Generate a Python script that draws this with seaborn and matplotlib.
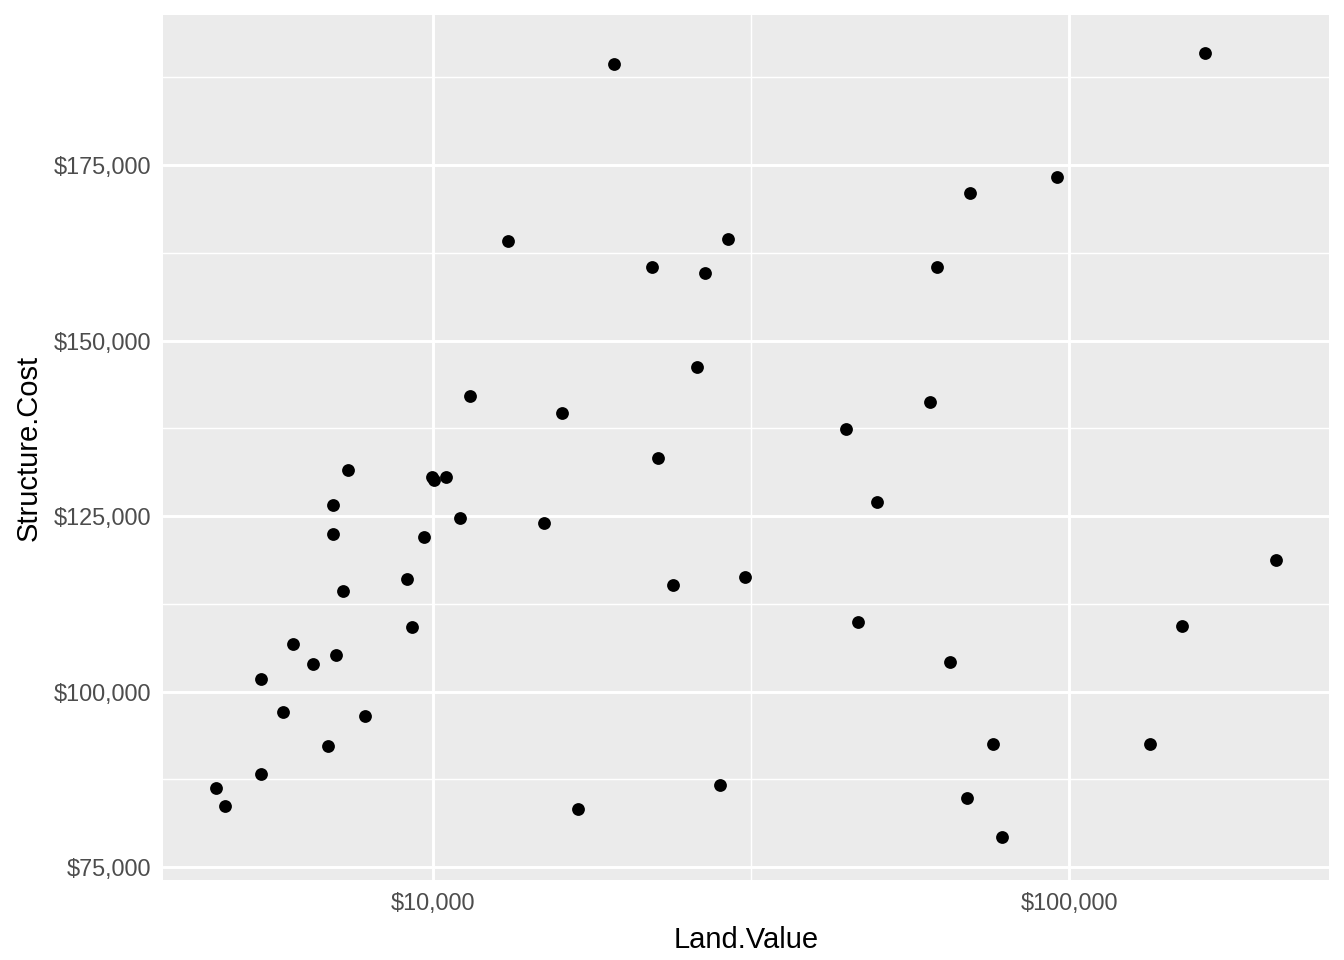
import matplotlib
matplotlib.use("Agg")
import matplotlib.pyplot as plt
import matplotlib.ticker as mticker
import numpy as np
import pandas as pd
import seaborn as sns


land_value = [
    4559, 4710, 5365, 5365, 5811, 6025, 6477, 6838, 6963, 6963,
    7040, 7222, 7354, 7818, 9102, 9268, 9679, 9964, 10036, 10482,
    11026, 11433, 13121, 14946, 15951, 16902, 19261, 22102, 22590, 23843,
    26015, 26780, 28266, 29094, 30945, 44609, 46581, 49901, 60437, 61992,
    65021, 69126, 69885, 75942, 78460, 95743, 134100, 150550, 163640, 211600,
]
structure_cost = [
    86254, 83689, 101781, 88248, 97080, 106766, 103917, 92236, 126567, 122436,
    105199, 114316, 131553, 96510, 116026, 109188, 122009, 130556, 130200, 130556,
    124715, 142094, 164174, 124003, 139672, 83262, 189387, 160470, 133262, 115171,
    146225, 159615, 86681, 164459, 116311, 137393, 109900, 126994, 141239, 160470,
    104202, 84829, 171011, 92521, 79274, 173291, 92521, 109330, 190954, 118732,
]

x_major = [10000, 100000]
x_minor = [10 ** 4.5]
y_major = [75000, 100000, 125000, 150000, 175000]
y_minor = [87500, 112500, 137500, 162500, 187500]


def money(v, _pos=None) -> str:
    return "${:,.0f}".format(v)


def plot_scatter(df: pd.DataFrame) -> None:
    sns.set_style("white")
    plt.rcParams["font.family"] = ["Liberation Sans", "DejaVu Sans"]

    fig = plt.figure(figsize=(13.44, 9.6), dpi=100)
    ax = fig.add_axes([163 / 1344, 80 / 960, (1329 - 163) / 1344, (880 - 15) / 960])
    ax.set_facecolor("#EBEBEB")

    ax.set_xscale("log")
    ax.set_xlim(3763, 256300)
    ax.set_ylim(73148, 196370)

    ax.xaxis.set_major_locator(mticker.FixedLocator(x_major))
    ax.xaxis.set_minor_locator(mticker.FixedLocator(x_minor))
    ax.yaxis.set_major_locator(mticker.FixedLocator(y_major))
    ax.yaxis.set_minor_locator(mticker.FixedLocator(y_minor))
    ax.xaxis.set_major_formatter(mticker.FuncFormatter(money))
    ax.yaxis.set_major_formatter(mticker.FuncFormatter(money))
    ax.xaxis.set_minor_formatter(mticker.NullFormatter())

    ax.grid(which="major", color="white", linewidth=2.1)
    ax.grid(which="minor", color="white", linewidth=1.05)
    ax.set_axisbelow(True)
    for s in ax.spines.values():
        s.set_visible(False)

    sns.scatterplot(
        data=df, x="Land.Value", y="Structure.Cost", ax=ax,
        color="black", s=85, linewidth=0, zorder=3,
    )

    ax.tick_params(which="major", length=5.3, width=1.05, color="#333333",
                   labelsize=16.9, labelcolor="#4D4D4D", pad=3)
    ax.tick_params(which="minor", length=0)
    ax.set_xlabel("Land.Value", fontsize=21, color="black", labelpad=8)
    ax.set_ylabel("Structure.Cost", fontsize=21, color="black", labelpad=8)

    fig.savefig("out.png", dpi=100)


if __name__ == "__main__":
    housing = pd.DataFrame({"Land.Value": land_value, "Structure.Cost": structure_cost})
    plot_scatter(housing)
